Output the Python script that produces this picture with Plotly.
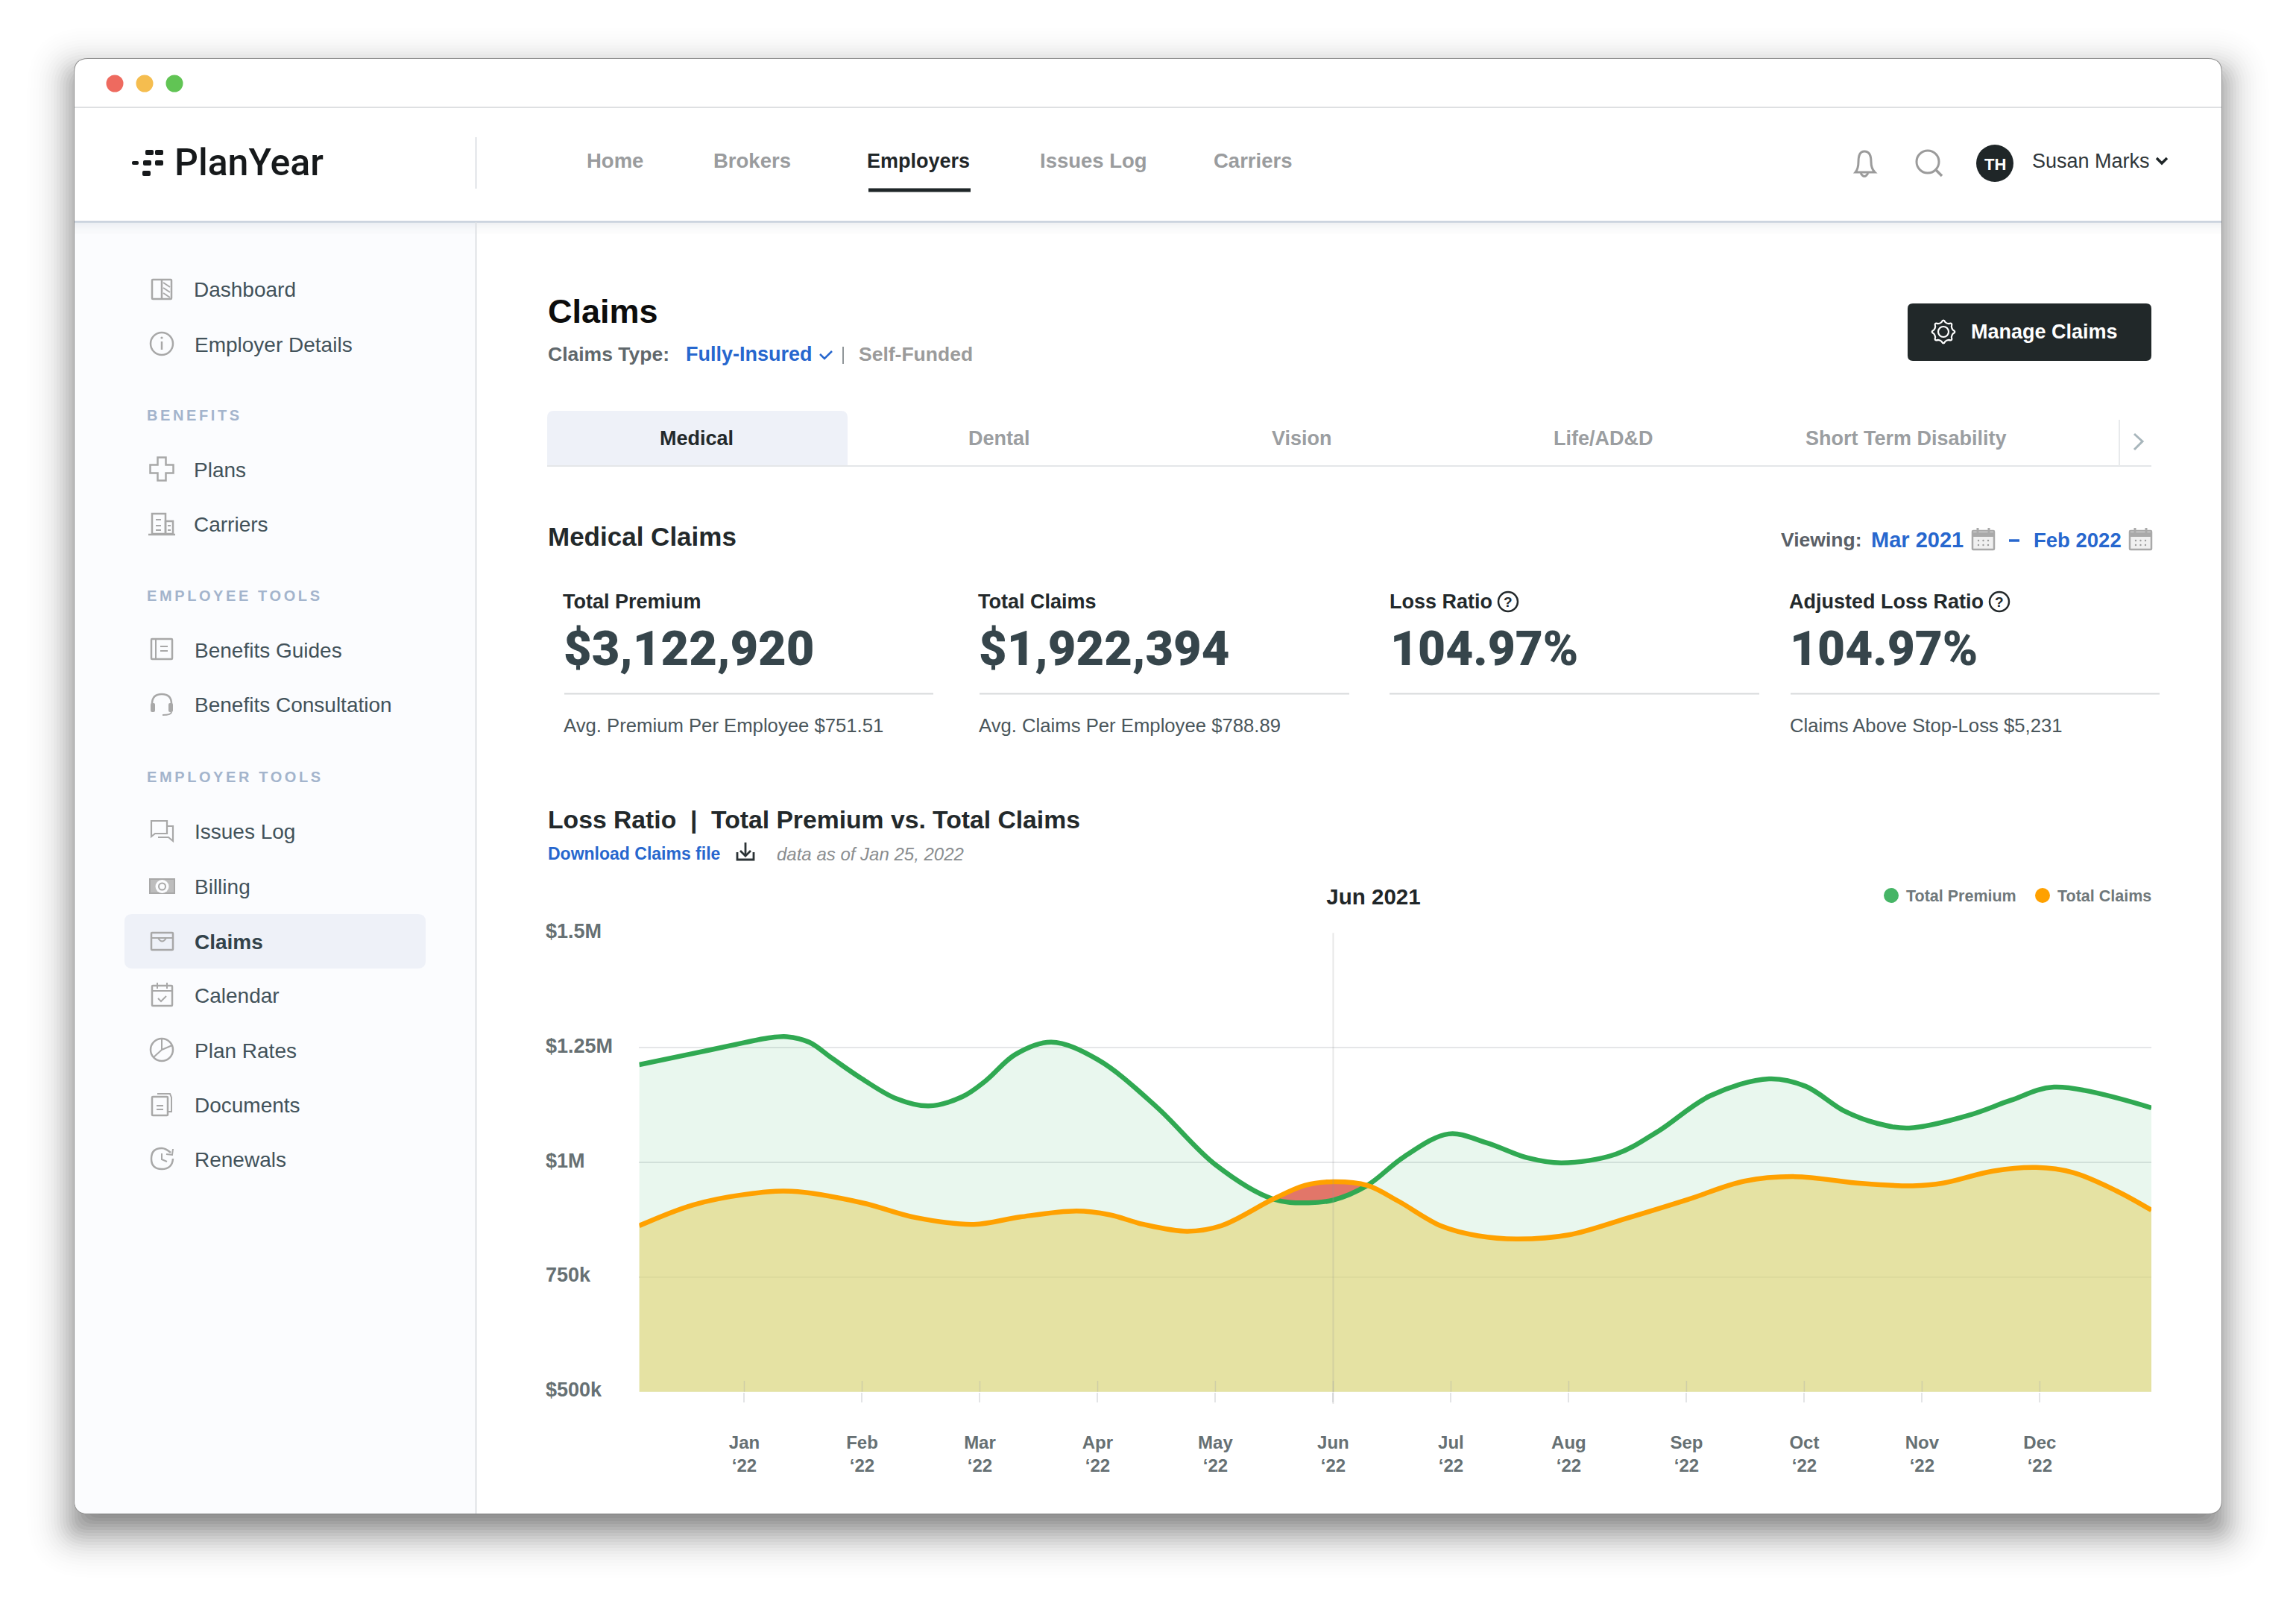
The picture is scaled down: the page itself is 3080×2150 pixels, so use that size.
import math
import plotly.graph_objects as go

W, H = 3080, 2150
SANS = "Liberation Sans"

# ---------- data (values in $ thousands, x in months from Jan '22) ----------
MONTHS = ["Jan", "Feb", "Mar", "Apr", "May", "Jun", "Jul", "Aug", "Sep", "Oct", "Nov", "Dec"]
MONTH_POS = [0, 1, 2, 3, 4, 5, 6, 7, 8, 9, 10, 11]
YEAR_MARK = "‘22"
Y_TICKS = [500, 750, 1000, 1250, 1500]
Y_LABELS = ["$500k", "750k", "$1M", "$1.25M", "$1.5M"]
X_RANGE = [-0.893, 11.947]
Y_RANGE = [500, 1500]

PREMIUM_X = [-0.893, -0.44, 0, 0.2, 0.36, 0.55, 0.75, 1, 1.29, 1.566, 1.85, 2.05, 2.3, 2.606, 3, 3.5, 4, 4.49, 4.79, 5, 5.29,
             5.6, 5.98, 6.3, 6.65, 6.94, 7.4, 7.76, 8.2, 8.7, 9.01, 9.34, 9.62, 9.89, 10.4, 10.75, 11.12, 11.947]
PREMIUM = [1213, 1237, 1261, 1271, 1274, 1262, 1226, 1182, 1139, 1123, 1143, 1178, 1235, 1262, 1224, 1121, 995, 920, 912, 918, 950,
           1012, 1062, 1043, 1010, 999, 1018, 1068, 1145, 1182, 1166, 1112, 1085, 1075, 1103, 1135, 1164, 1119]
CLAIMS_X = [-0.893, -0.44, 0, 0.4, 1, 1.45, 1.95, 2.34, 2.82, 3.1, 3.39, 3.76, 4.05, 4.49, 4.76, 5, 5.29,
            5.55, 5.92, 6.23, 6.57, 7, 7.49, 8.01, 8.49, 8.92, 9.49, 9.92, 10.18, 10.6, 10.97, 11.28, 11.65, 11.947]
CLAIMS = [862, 907, 930, 937, 912, 880, 865, 881, 894, 886, 865, 850, 862, 920, 950, 958, 950,
          916, 861, 840, 833, 842, 878, 919, 959, 969, 954, 949, 955, 981, 989, 978, 938, 896]
OVER_START, OVER_END = 4.49, 5.29     # claims exceed premium between these months
SELECTED_MONTH = 5
SELECTED_LABEL = "Jun 2021"

# ---------- page text ----------
NAV = [("Home", 825), ("Brokers", 1009), ("Employers", 1232), ("Issues Log", 1467), ("Carriers", 1681)]
TABS = [("Medical", 935), ("Dental", 1340), ("Vision", 1746), ("Life/AD&D", 2151), ("Short Term Disability", 2557)]
SIDE_ITEMS = [("Dashboard", 259, 388), ("Employer Details", 260, 462), ("Plans", 259, 630), ("Carriers", 259, 703),
              ("Benefits Guides", 260, 872), ("Benefits Consultation", 260, 946), ("Issues Log", 260, 1115),
              ("Billing", 260, 1189), ("Calendar", 260, 1335), ("Plan Rates", 260, 1409), ("Documents", 260, 1482),
              ("Renewals", 260, 1555)]
SIDE_HEADS = [("BENEFITS", 557), ("EMPLOYEE TOOLS", 799), ("EMPLOYER TOOLS", 1042)]
KPIS = [(755, "Total Premium", "$3,122,920", "Avg. Premium Per Employee $751.51"),
        (1312, "Total Claims", "$1,922,394", "Avg. Claims Per Employee $788.89"),
        (1864, "Loss Ratio", "104.97%", ""),
        (2400, "Adjusted Loss Ratio", "104.97%", "Claims Above Stop-Loss $5,231")]

shapes, annos = [], []
def px(x): return x / W
def py(y): return 1 - y / H
def pt(x, y): return f"{px(x):.6f},{py(y):.6f}"

def path(d, fill=None, line=None, lw=0, op=1):
    shapes.append(dict(type="path", xref="paper", yref="paper", path=d, layer="below", opacity=op,
                       fillcolor=fill or "rgba(0,0,0,0)",
                       line=dict(color=line or "rgba(0,0,0,0)", width=lw)))

def rrect_d(x0, y0, x1, y1, r, tl=True, tr=True, br=True, bl=True):
    rt, rr, rb, rl = (r if tl else 0), (r if tr else 0), (r if br else 0), (r if bl else 0)
    return (f"M{pt(x0 + rt, y0)} L{pt(x1 - rr, y0)} Q{pt(x1, y0)} {pt(x1, y0 + rr)} L{pt(x1, y1 - rb)} "
            f"Q{pt(x1, y1)} {pt(x1 - rb, y1)} L{pt(x0 + rl, y1)} Q{pt(x0, y1)} {pt(x0, y1 - rl)} "
            f"L{pt(x0, y0 + rt)} Q{pt(x0, y0)} {pt(x0 + rt, y0)} Z")

def rrect(x0, y0, x1, y1, r=0, fill=None, line=None, lw=0, op=1, **k):
    path(rrect_d(x0, y0, x1, y1, r, **k), fill, line, lw, op)

def seg(x0, y0, x1, y1, color, lw=2, op=1):
    shapes.append(dict(type="line", xref="paper", yref="paper", x0=px(x0), x1=px(x1), y0=py(y0), y1=py(y1),
                       layer="below", opacity=op, line=dict(color=color, width=lw)))

def circ(cx, cy, r, fill=None, line=None, lw=0):
    shapes.append(dict(type="circle", xref="paper", yref="paper", x0=px(cx - r), x1=px(cx + r), y0=py(cy + r),
                       y1=py(cy - r), layer="below", fillcolor=fill or "rgba(0,0,0,0)",
                       line=dict(color=line or "rgba(0,0,0,0)", width=lw)))

def text(x, y, s, size, color, weight=400, anchor="left", family=SANS, italic=False):
    annos.append(dict(xref="paper", yref="paper", x=px(x), y=py(y), text=s, showarrow=False, xanchor=anchor,
                      yanchor="middle", align=anchor, borderpad=0,
                      font=dict(family=family, size=size, color=color, weight=weight,
                                style="italic" if italic else "normal")))

# ---------- window ----------
WX0, WY0, WX1, WY1 = 100, 79, 2980, 2030
A, SIG, DY = 0.56, 28.0, 22
prev = 0.0
for e in range(80, -66, -4):
    target = A * 0.5 * (1 - math.erf(e / (SIG * math.sqrt(2))))
    a = 1 - (1 - target) / (1 - prev)
    prev = target
    rrect(WX0 - e, WY0 + DY - e, WX1 + e, WY1 + DY + e, max(18, 18 + e), fill="#000000", op=max(a, 0.0005))
rrect(WX0 - 1, WY0 - 1, WX1 + 1, WY1 + 1, 19, fill="#8f8f8f")
rrect(WX0, WY0, WX1, WY1, 18, fill="#ffffff")
rrect(WX0, 297, 638, WY1, 18, fill="#FBFCFE", tl=False, tr=False, br=False)
seg(WX0, 144, WX1, 144, "#DEE0E2", 2)
for i, o in enumerate([0.10, 0.07, 0.05, 0.03, 0.02, 0.01]):
    seg(WX0, 300 + i * 2.5, WX1, 300 + i * 2.5, "#7d8ba0", 2.5, o)
seg(WX0, 297.5, WX1, 297.5, "#C6CFDB", 2.5)
seg(638.5, 184, 638.5, 253, "#DDE0E4", 2)
seg(638.5, 298, 638.5, WY1, "#DDE0E4", 2)
for cx, c in zip((154, 194, 234), ("#EE6A5F", "#F5BD4F", "#61C454")):
    circ(cx, 112, 11.5, fill=c)

# ---------- header ----------
DK = "#16191b"
for x0, y0 in [(195, 201), (208, 201), (177, 216), (192, 215), (208, 215), (191, 229)]:
    rrect(x0, y0, x0 + (9 if x0 == 177 else 11), y0 + (5 if x0 == 177 else 7), 2, fill=DK)
text(233, 218, "PlanYear", 50, DK, 500, family="Roboto")
for s, cx in NAV:
    active = s == "Employers"
    text(cx, 216, s, 27 if active else 27.5, "#1f2628" if active else "#9a9c9e", 700, "center")
seg(1165, 255, 1302, 255, "#1f2628", 5)
# bell
G = "#9b9b9b"
path(f"M{pt(2489, 231)} Q{pt(2493, 226)} {pt(2493, 217)} Q{pt(2493, 203)} {pt(2501, 203)} Q{pt(2510, 203)} {pt(2510, 217)} "
     f"Q{pt(2510, 226)} {pt(2515, 231)} Z", line=G, lw=3)
path(f"M{pt(2496, 232)} Q{pt(2501, 241)} {pt(2506, 232)}", line=G, lw=3)
circ(2586, 217, 15, line=G, lw=3)
seg(2597, 228, 2605, 236, G, 3.5)
circ(2676, 219, 25, fill="#1f2628")
text(2676, 220, "TH", 22, "#ffffff", 700, "center")
text(2725, 216, "Susan Marks", 27, "#2f3639", 400)
path(f"M{pt(2893, 212)} L{pt(2900, 219)} L{pt(2907, 212)}", line="#1f2628", lw=3.5)

# ---------- page header ----------
text(734, 417, "Claims", 45, "#0c0c0c", 700)
text(734, 475, "Claims Type:", 26.5, "#60686c", 700)
text(919, 475, "Fully-Insured", 27, "#2767CE", 700)
path(f"M{pt(1100, 475)} L{pt(1106, 481)} L{pt(1116, 471)}", line="#2767CE", lw=2.5)
seg(1131, 465, 1131, 488, "#8f9598", 2)
text(1151, 475, "Self-Funded", 26.5, "#9b9b9b", 700)

# button
rrect(2559, 407, 2886, 484, 7, fill="#212829")
gx, gy, n = 2607, 445, 8
d = ""
for i in range(n):
    a0 = 2 * math.pi * i / n
    a1 = 2 * math.pi * (i + 0.5) / n
    p0 = (gx + 13 * math.cos(a0 - 0.2), gy + 13 * math.sin(a0 - 0.2))
    c0 = (gx + 18 * math.cos(a0), gy + 18 * math.sin(a0))
    p1 = (gx + 13 * math.cos(a0 + 0.2), gy + 13 * math.sin(a0 + 0.2))
    c1 = (gx + 12 * math.cos(a1), gy + 12 * math.sin(a1))
    p2 = (gx + 13 * math.cos(a0 + 2 * math.pi / n - 0.2), gy + 13 * math.sin(a0 + 2 * math.pi / n - 0.2))
    d += (f"M{pt(*p0)} " if i == 0 else "") + f"Q{pt(*c0)} {pt(*p1)} Q{pt(*c1)} {pt(*p2)} "
path(d + "Z", line="#ffffff", lw=2.2)
circ(gx, gy, 7, line="#ffffff", lw=2.2)
text(2643, 445, "Manage Claims", 27, "#ffffff", 700)

# tabs
rrect(734, 551, 1137, 624, 9, fill="#EEF1F8", br=False, bl=False)
seg(734, 625, 2886, 625, "#E4E6E9", 2)
seg(2843, 563, 2843, 625, "#E8EAEC", 2)
path(f"M{pt(2863, 582)} L{pt(2874, 592)} L{pt(2863, 603)}", line="#A8B6BC", lw=3)
for s, cx in TABS:
    text(cx, 588, s, 27, "#23292b" if s == "Medical" else "#9b9ea1", 700, "center")

# section head + date range
text(734, 719, "Medical Claims", 35, "#23292b", 700)
text(2388, 724, "Viewing:", 26.5, "#5a6067", 700)
text(2509, 724, "Mar 2021", 29, "#2767CE", 700)
text(2727, 724, "Feb 2022", 27.5, "#2767CE", 700)
seg(2695, 725, 2709, 725, "#2767CE", 3.5)
for x0 in (2646, 2857):
    rrect(x0, 712, x0 + 29, 737, 1, fill="#f0f0f0", line="#a9a9a9", lw=2.5)
    seg(x0, 717, x0 + 29, 717, "#a9a9a9", 6)
    seg(x0 + 7, 708, x0 + 7, 714, "#a9a9a9", 3)
    seg(x0 + 22, 708, x0 + 22, 714, "#a9a9a9", 3)
    for yy in (725, 731):
        for dx in (8, 14.5, 21):
            circ(x0 + dx, yy, 1.2, fill="#9d9d9d")

# KPI row
KPI_LINES = [(757, 1252), (1314, 1810), (1864, 2360), (2402, 2897)]
for (x, lab, val, sub), (a0, a1) in zip(KPIS, KPI_LINES):
    text(x - 1, 807, lab, 27, "#23292b", 700)
    text(x, 870, val, 65 if val[0] == "$" else 64, "#36454b", 900, family="Roboto")
    seg(a0, 930.5, a1, 930.5, "#D7D9DB", 2)
    if sub:
        text(x, 973, sub, 25.7, "#4a565b", 400)
for cx in (2023, 2682):
    circ(cx, 807, 13, line="#23292b", lw=2.5)
    text(cx, 807, "?", 19, "#23292b", 700, "center")

# chart head
text(734, 1099, "Loss Ratio  |  Total Premium vs. Total Claims", 33.7, "#23292b", 700)
text(734, 1145, "Download Claims file", 23, "#2767CE", 700)
path(f"M{pt(989, 1143)} L{pt(989, 1153)} L{pt(1011, 1153)} L{pt(1011, 1143)}", line="#2c3336", lw=2.8)
seg(1000, 1130, 1000, 1147, "#2c3336", 2.8)
path(f"M{pt(993, 1141)} L{pt(1000, 1148)} L{pt(1007, 1141)}", line="#2c3336", lw=2.8)
text(1041, 1145, "data as of Jan 25, 2022", 24, "#8a8d8f", 400, italic=True)

# ---------- sidebar ----------
rrect(167, 1226, 571, 1299, 10, fill="#EEF1F8")
for s, x, y in SIDE_ITEMS:
    text(x, y, s, 28, "#42525a", 400)
text(260, 1263, "Claims", 28, "#33434b", 700)
for s, y in SIDE_HEADS:
    text(196, y, s, 20, "#A3B4CC", 700)

IC, LW = "#a8a8a8", 2.5
# dashboard
rrect(204, 375, 230, 401, 1, line=IC, lw=LW)
seg(217, 375, 217, 401, IC, LW)
for k in range(3):
    seg(219, 379 + k * 7, 228, 385 + k * 7, IC, 2)
# info
circ(217, 461, 15, line=IC, lw=LW)
seg(217, 458, 217, 469, IC, 2.5)
circ(217, 453, 1.6, fill=IC)
# plus
xc, yc = 217, 629
a, b = 5.5, 15.5
d = " ".join(("M" if i == 0 else "L") + pt(xc + u, yc + v) for i, (u, v) in enumerate(
    [(-a, -b), (a, -b), (a, -a), (b, -a), (b, a), (a, a), (a, b), (-a, b), (-a, a), (-b, a), (-b, -a), (-a, -a)]))
path(d + " Z", line=IC, lw=LW)
# carriers
rrect(204, 689, 222, 716, 0, line=IC, lw=LW)
rrect(222, 699, 232, 716, 0, line=IC, lw=LW)
seg(199, 717, 235, 717, IC, 2.5)
for yy in (697, 705, 711):
    seg(209, yy, 216, yy, IC, 2)
for yy in (705, 711):
    seg(225, yy, 229, yy, IC, 2)
# guides
rrect(203, 857, 231, 884, 1, line=IC, lw=LW)
seg(209, 857, 209, 884, IC, 2)
seg(215, 867, 225, 867, IC, 2)
seg(215, 873, 225, 873, IC, 2)
# headset
path(f"M{pt(204, 944)} Q{pt(204, 931)} {pt(217, 931)} Q{pt(230, 931)} {pt(230, 944)}", line=IC, lw=LW)
rrect(202, 943, 208, 955, 2, fill=IC)
rrect(226, 943, 232, 955, 2, fill=IC)
path(f"M{pt(230, 955)} Q{pt(230, 959)} {pt(218, 959)}", line=IC, lw=2)
# issues
path(f"M{pt(203, 1101)} L{pt(224, 1101)} L{pt(224, 1118)} L{pt(208, 1118)} L{pt(203, 1122)} Z", line=IC, lw=2.2)
path(f"M{pt(212, 1123)} L{pt(226, 1123)} L{pt(232, 1128)} L{pt(232, 1108)} L{pt(224, 1108)}", line=IC, lw=2.2)
# billing
rrect(201, 1179, 234, 1198, 0, fill="#bdbdbd", line=IC, lw=2)
circ(217.5, 1189, 9, fill="#FBFCFE")
circ(217.5, 1189, 4.5, line=IC, lw=2)
# claims icon
rrect(203, 1251, 232, 1274, 1, line=IC, lw=LW)
seg(203, 1258, 232, 1258, IC, 2)
path(f"M{pt(212, 1258)} Q{pt(217.5, 1267)} {pt(223, 1258)}", line=IC, lw=2)
# calendar
rrect(204, 1322, 231, 1349, 1, line=IC, lw=LW)
seg(204, 1329, 231, 1329, IC, 2)
seg(211, 1318, 211, 1326, IC, 2)
seg(224, 1318, 224, 1326, IC, 2)
path(f"M{pt(212, 1339)} L{pt(216, 1343)} L{pt(223, 1336)}", line=IC, lw=2)
# rates
circ(217, 1408, 15, line=IC, lw=LW)
seg(217, 1408, 217, 1393, IC, 2)
seg(217, 1408, 231, 1402, IC, 2)
seg(217, 1408, 206, 1418, IC, 2)
# documents
rrect(204, 1471, 225, 1496, 1, line=IC, lw=LW)
path(f"M{pt(211, 1467)} L{pt(228, 1467)} L{pt(230, 1472)} L{pt(230, 1491)} L{pt(226, 1491)}", line=IC, lw=2)
seg(210, 1483, 219, 1483, IC, 2)
seg(210, 1488, 219, 1488, IC, 2)
# renewals
path(f"M{pt(229, 1546)} Q{pt(222, 1540)} {pt(217, 1540)} Q{pt(203, 1540)} {pt(203, 1554)} Q{pt(203, 1568)} {pt(217, 1568)} "
     f"Q{pt(231, 1568)} {pt(232, 1554)}", line=IC, lw=LW)
path(f"M{pt(217, 1547)} L{pt(217, 1555)} L{pt(224, 1558)}", line=IC, lw=2)
path(f"M{pt(232, 1541)} L{pt(231, 1549)} L{pt(223, 1548)}", line=IC, lw=2)

# ---------- chart ----------
XL, XR, YT, YB = 857.4, 2886, 1251.3, 1866.8
GREEN, ORANGE = "#30A952", "#FFA100"
fig = go.Figure()
spl = dict(shape="spline", smoothing=1.0)
fig.add_trace(go.Scatter(x=PREMIUM_X, y=PREMIUM, mode="lines", fill="tozeroy", fillcolor="rgba(40,180,90,0.10)",
                         line=dict(width=0, color="rgba(0,0,0,0)", **spl), showlegend=False, hoverinfo="skip"))
fig.add_trace(go.Scatter(x=CLAIMS_X, y=CLAIMS, mode="lines", fill="tozeroy", fillcolor="rgba(227,217,131,0.70)",
                         line=dict(width=0, color="rgba(0,0,0,0)", **spl), showlegend=False, hoverinfo="skip"))
over_c = [(x, y) for x, y in zip(CLAIMS_X, CLAIMS) if OVER_START <= x <= OVER_END]
over_p = [(x, y) for x, y in zip(PREMIUM_X, PREMIUM) if OVER_START <= x <= OVER_END]
ring = over_c + over_p[::-1]
fig.add_trace(go.Scatter(x=[p[0] for p in ring], y=[p[1] for p in ring], mode="lines", fill="toself",
                         fillcolor="#E27669", line=dict(width=0, color="rgba(0,0,0,0)", **spl),
                         showlegend=False, hoverinfo="skip"))
fig.add_trace(go.Scatter(x=PREMIUM_X, y=PREMIUM, mode="lines", line=dict(width=6.5, color=GREEN, **spl),
                         name="Total Premium", showlegend=False))
fig.add_trace(go.Scatter(x=CLAIMS_X, y=CLAIMS, mode="lines", line=dict(width=6.5, color=ORANGE, **spl),
                         name="Total Claims", showlegend=False))
fig.add_trace(go.Scatter(x=[None], y=[None], mode="markers", name="Total Premium",
                         marker=dict(size=16, color="#46B566", line=dict(width=4, color="#46B566")), hoverinfo="skip"))
fig.add_trace(go.Scatter(x=[None], y=[None], mode="markers", name="Total Claims",
                         marker=dict(size=16, color=ORANGE, line=dict(width=4, color=ORANGE)), hoverinfo="skip"))

for m in MONTH_POS:
    shapes.append(dict(type="line", xref="x", yref="paper", x0=m, x1=m, y0=py(YB), y1=py(1852), layer="above",
                       line=dict(color="rgba(190,190,170,0.55)", width=1.5)))
shapes.append(dict(type="line", xref="x", yref="paper", x0=SELECTED_MONTH, x1=SELECTED_MONTH, y0=py(1883), y1=py(YT),
                   layer="above", line=dict(color="rgba(150,150,150,0.22)", width=2)))

fig.update_layout(
    width=W, height=H, margin=dict(l=0, r=0, t=0, b=0, autoexpand=False), paper_bgcolor="#ffffff",
    plot_bgcolor="rgba(0,0,0,0)", shapes=shapes, annotations=annos, hovermode=False,
    title=dict(text=SELECTED_LABEL, x=1842.5 / W, xanchor="center", xref="paper", y=py(1203), yanchor="middle",
               yref="paper", font=dict(family=SANS, size=29.5, color="#1f2628", weight=700)),
    xaxis=dict(domain=[px(XL), px(XR)], range=X_RANGE, tickmode="array", tickvals=MONTH_POS,
               ticktext=[f"{m}<br>{YEAR_MARK}" for m in MONTHS], ticks="outside", ticklen=13, tickwidth=1.5,
               tickcolor="#E3E4E6", showgrid=False, zeroline=False, showline=False, ticklabelstandoff=33,
               tickfont=dict(family=SANS, size=24, color="#667073", weight=700)),
    yaxis=dict(domain=[py(YB), py(YT)], range=Y_RANGE, tickmode="array", tickvals=Y_TICKS, ticktext=Y_LABELS,
               anchor="free", position=px(728), ticklabelposition="inside", ticklabeloverflow="allow",
               ticklabelshift=-3, showgrid=True, gridcolor="#E5E6E8", gridwidth=2, zeroline=False, showline=False,
               ticks="", tickfont=dict(family=SANS, size=27, color="#667073", weight=700)),
    legend=dict(orientation="h", x=2923 / W, xanchor="right", y=py(1201), yanchor="middle", xref="paper", yref="paper",
                font=dict(family=SANS, size=21.5, color="#6f787b", weight=700), bgcolor="rgba(0,0,0,0)",
                itemsizing="trace", traceorder="normal", entrywidth=158, entrywidthmode="pixels"),
)

HEADS = [h[0] for h in SIDE_HEADS]
post = ("document.body.style.margin='0';document.body.style.overflow='hidden';"
        "document.querySelectorAll('text.annotation-text').forEach(function(t){"
        "if(%r.indexOf(t.textContent)>=0){t.style.letterSpacing='3.6px';}});" % HEADS)
fig.write_html("out.html", config=dict(displayModeBar=False, responsive=False), post_script=post)
